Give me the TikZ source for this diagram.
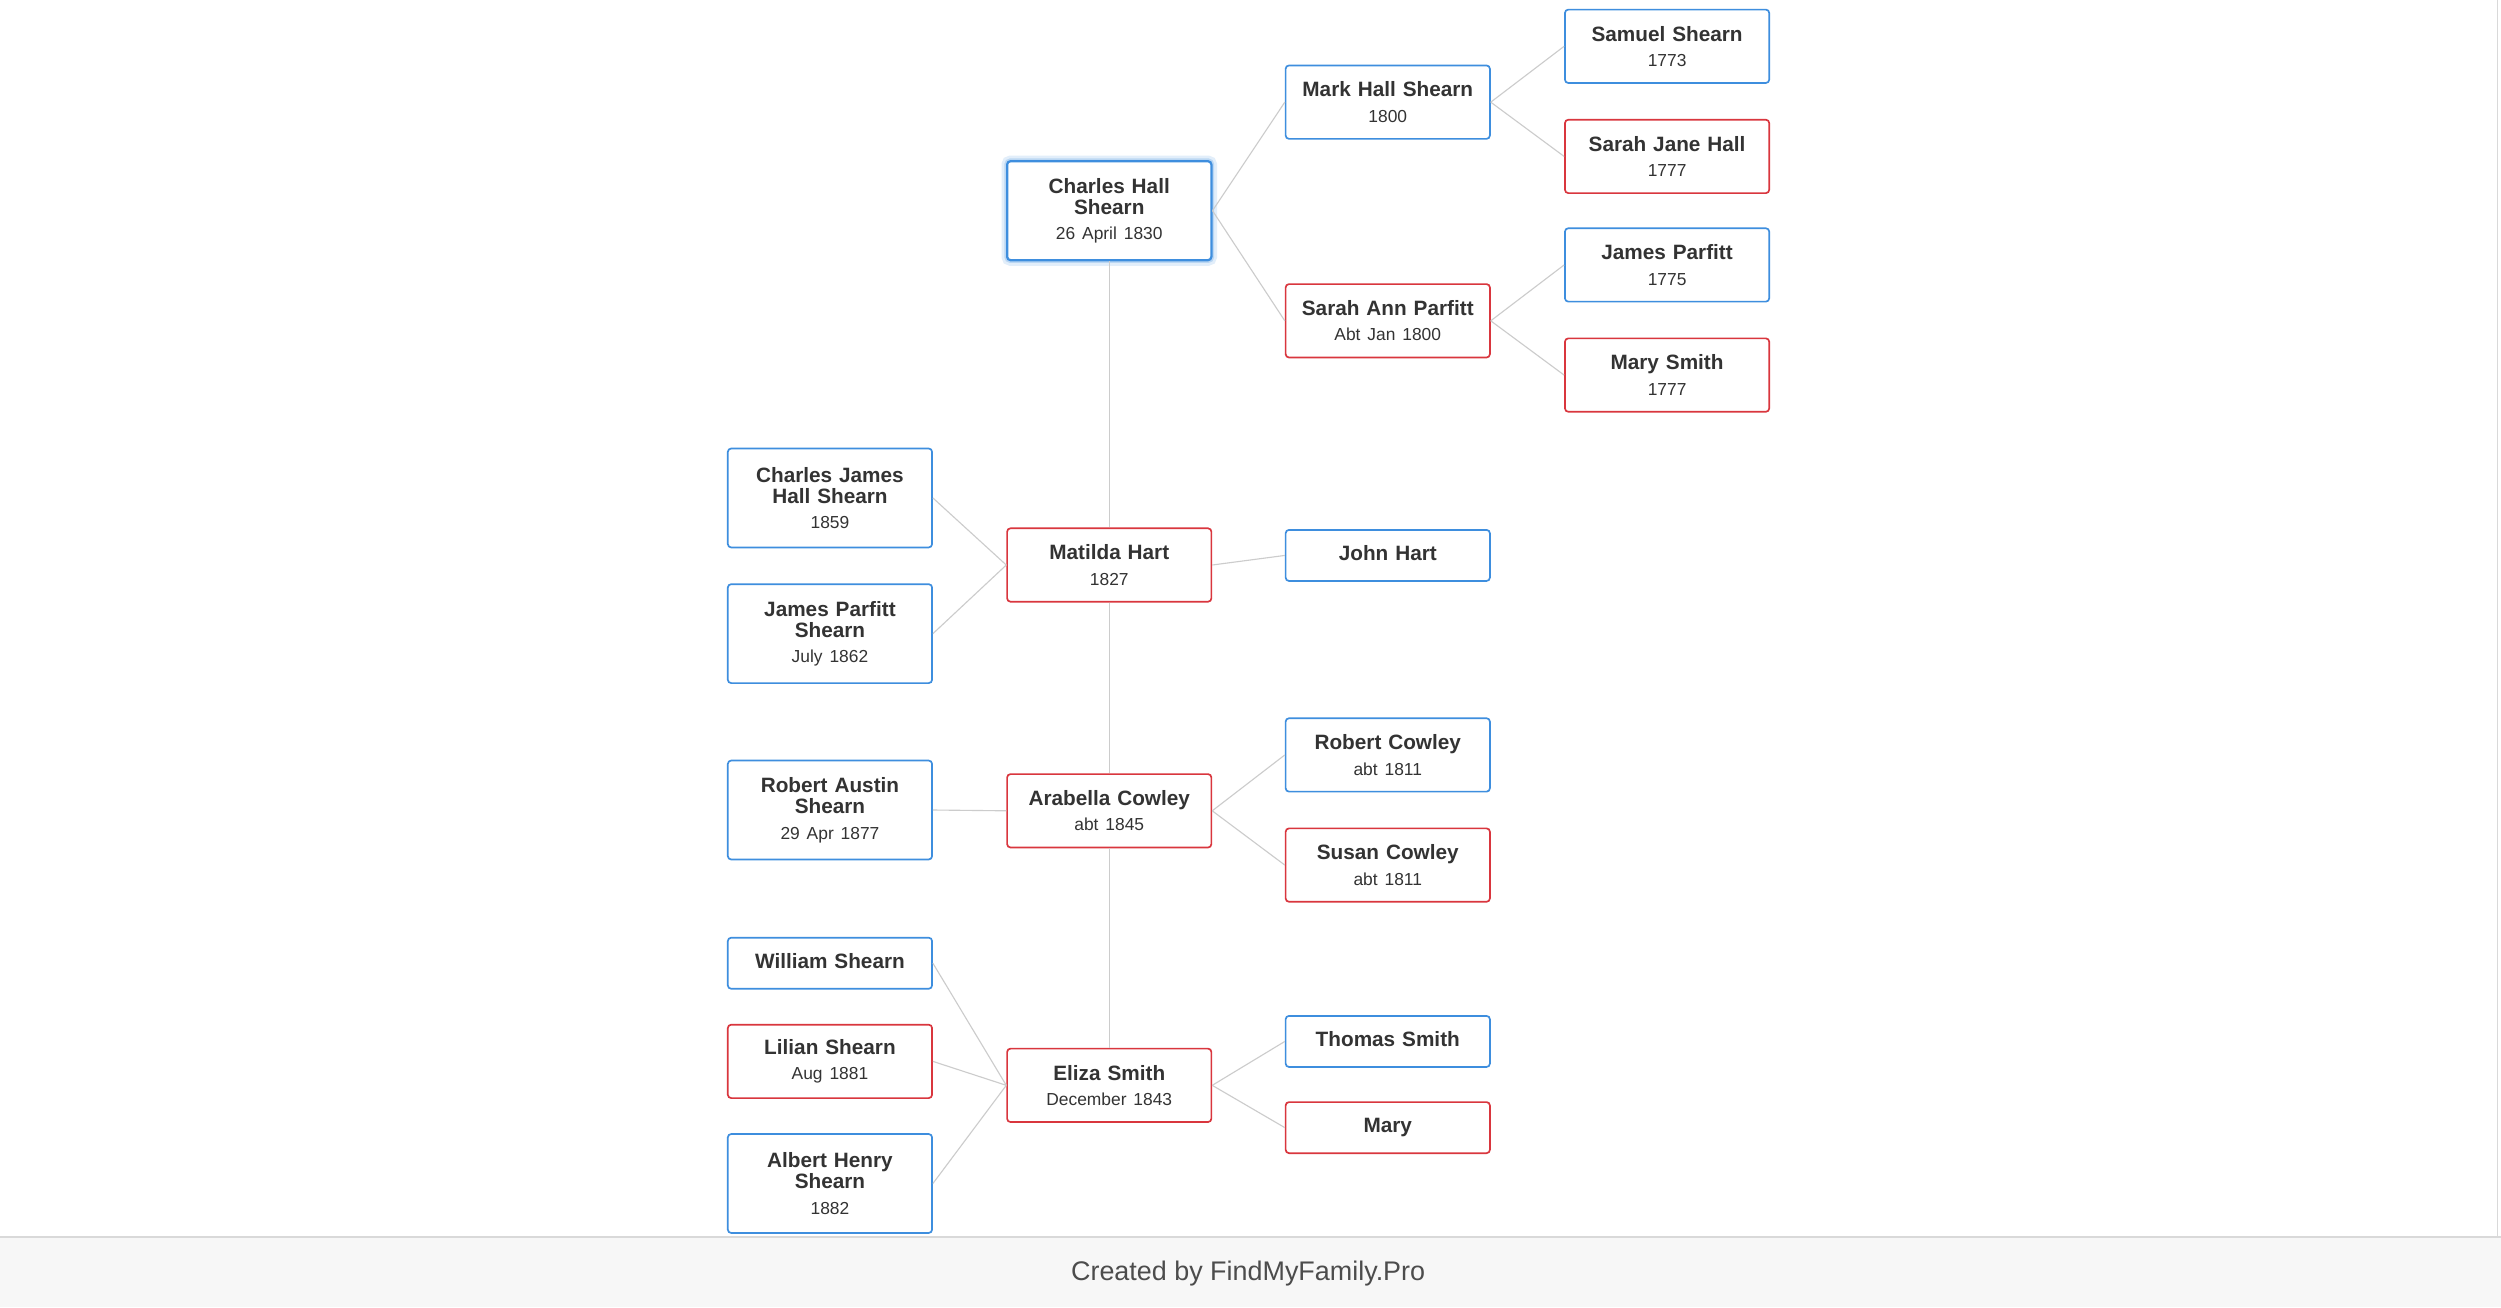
\documentclass[tikz,border=0pt]{standalone}
\usepackage{fontspec}
\setmainfont{Liberation Sans}
\usetikzlibrary{positioning}
\definecolor{boyblue}{HTML}{3E8EDE}
\definecolor{girlred}{HTML}{D9363E}
\definecolor{linkgray}{HTML}{CCCCCC}
\definecolor{textgray}{HTML}{333333}
\newcommand{\who}[2]{\textbf{#1}\\[1.4pt]{\fontsize{6.2}{7.4}\selectfont #2}}
\newcommand{\whoonly}[1]{\textbf{#1}\vphantom{gy}}
\tikzset{
	person/.style={draw,line width=0.6pt,rounded corners=1.2pt,fill=white,minimum width=2.56cm,text width=2.4cm,align=center,text=textgray,inner sep=1pt,font=\fontsize{7.4}{7.6}\selectfont},
	boy/.style={person,draw=boyblue},
	girl/.style={person,draw=girlred},
	link/.style={draw=linkgray,line width=0.4pt}
}
\begin{document}
\begin{tikzpicture}[x=0.02cm,y=-0.02cm]
	\useasboundingbox (0,0) rectangle (1567,819);
	\fill[white] (0,0) rectangle (1567,775);
	\fill[black!3] (0,775) rectangle (1567,819);
	\draw[black!15] (0,775) -- (1567,775);
	\draw[black!15] (1565,0) -- (1565,775);
	\node[text=black!70,font=\fontsize{9.6}{10}\selectfont] (footer) at (782,798) {Created by FindMyFamily.Pro};

	% main line
	\node[boy,minimum height=1.24cm,line width=0.8pt,draw=boyblue,
		preaction={draw=boyblue!15,line width=4pt},
		preaction={draw=boyblue!35,line width=2pt}] (charles) at (695,132) {\who{Charles Hall\\Shearn}{26 April 1830}};
	\node[girl,minimum height=0.92cm] (matilda) at (695,354) {\who{Matilda Hart}{1827}};
	\node[girl,minimum height=0.92cm] (arabella) at (695,508) {\who{Arabella Cowley}{abt 1845}};
	\node[girl,minimum height=0.92cm] (eliza) at (695,680) {\who{Eliza Smith}{December 1843}};

	% parents
	\node[boy,minimum height=0.92cm] (mark) at (869.5,64) {\who{Mark Hall Shearn}{1800}};
	\node[girl,minimum height=0.92cm] (sarahann) at (869.5,201) {\who{Sarah Ann Parfitt}{Abt Jan 1800}};
	\node[boy,minimum height=0.92cm] (samuel) at (1044.5,29) {\who{Samuel Shearn}{1773}};
	\node[girl,minimum height=0.92cm] (sarahjane) at (1044.5,98) {\who{Sarah Jane Hall}{1777}};
	\node[boy,minimum height=0.92cm] (jamesp) at (1044.5,166) {\who{James Parfitt}{1775}};
	\node[girl,minimum height=0.92cm] (marysmith) at (1044.5,235) {\who{Mary Smith}{1777}};
	\node[boy,minimum height=0.64cm] (john) at (869.5,348) {\whoonly{John Hart}};
	\node[boy,minimum height=0.92cm] (robertc) at (869.5,473) {\who{Robert Cowley}{abt 1811}};
	\node[girl,minimum height=0.92cm] (susan) at (869.5,542) {\who{Susan Cowley}{abt 1811}};
	\node[boy,minimum height=0.64cm] (thomas) at (869.5,652.5) {\whoonly{Thomas Smith}};
	\node[girl,minimum height=0.64cm] (mary) at (869.5,706.5) {\whoonly{Mary}};

	% children
	\node[boy,minimum height=1.24cm] (charlesj) at (520,312) {\who{Charles James\\Hall Shearn}{1859}};
	\node[boy,minimum height=1.24cm] (jamesps) at (520,397) {\who{James Parfitt\\Shearn}{July 1862}};
	\node[boy,minimum height=1.24cm] (roberta) at (520,507.5) {\who{Robert Austin\\Shearn}{29 Apr 1877}};
	\node[boy,minimum height=0.64cm] (william) at (520,603.5) {\whoonly{William Shearn}};
	\node[girl,minimum height=0.92cm] (lilian) at (520,665) {\who{Lilian Shearn}{Aug 1881}};
	\node[boy,minimum height=1.24cm] (albert) at (520,741.5) {\who{Albert Henry\\Shearn}{1882}};

	\foreach \from/\to in {charles/matilda, matilda/arabella, arabella/eliza}
		\draw[link] (\from.south) -- (\to.north);
	\foreach \from/\to in {charles/mark, charles/sarahann, mark/samuel, mark/sarahjane,
		sarahann/jamesp, sarahann/marysmith, matilda/john, arabella/robertc,
		arabella/susan, eliza/thomas, eliza/mary,
		charlesj/matilda, jamesps/matilda, roberta/arabella,
		william/eliza, lilian/eliza, albert/eliza}
		\draw[link] (\from.east) -- (\to.west);
\end{tikzpicture}
\end{document}
